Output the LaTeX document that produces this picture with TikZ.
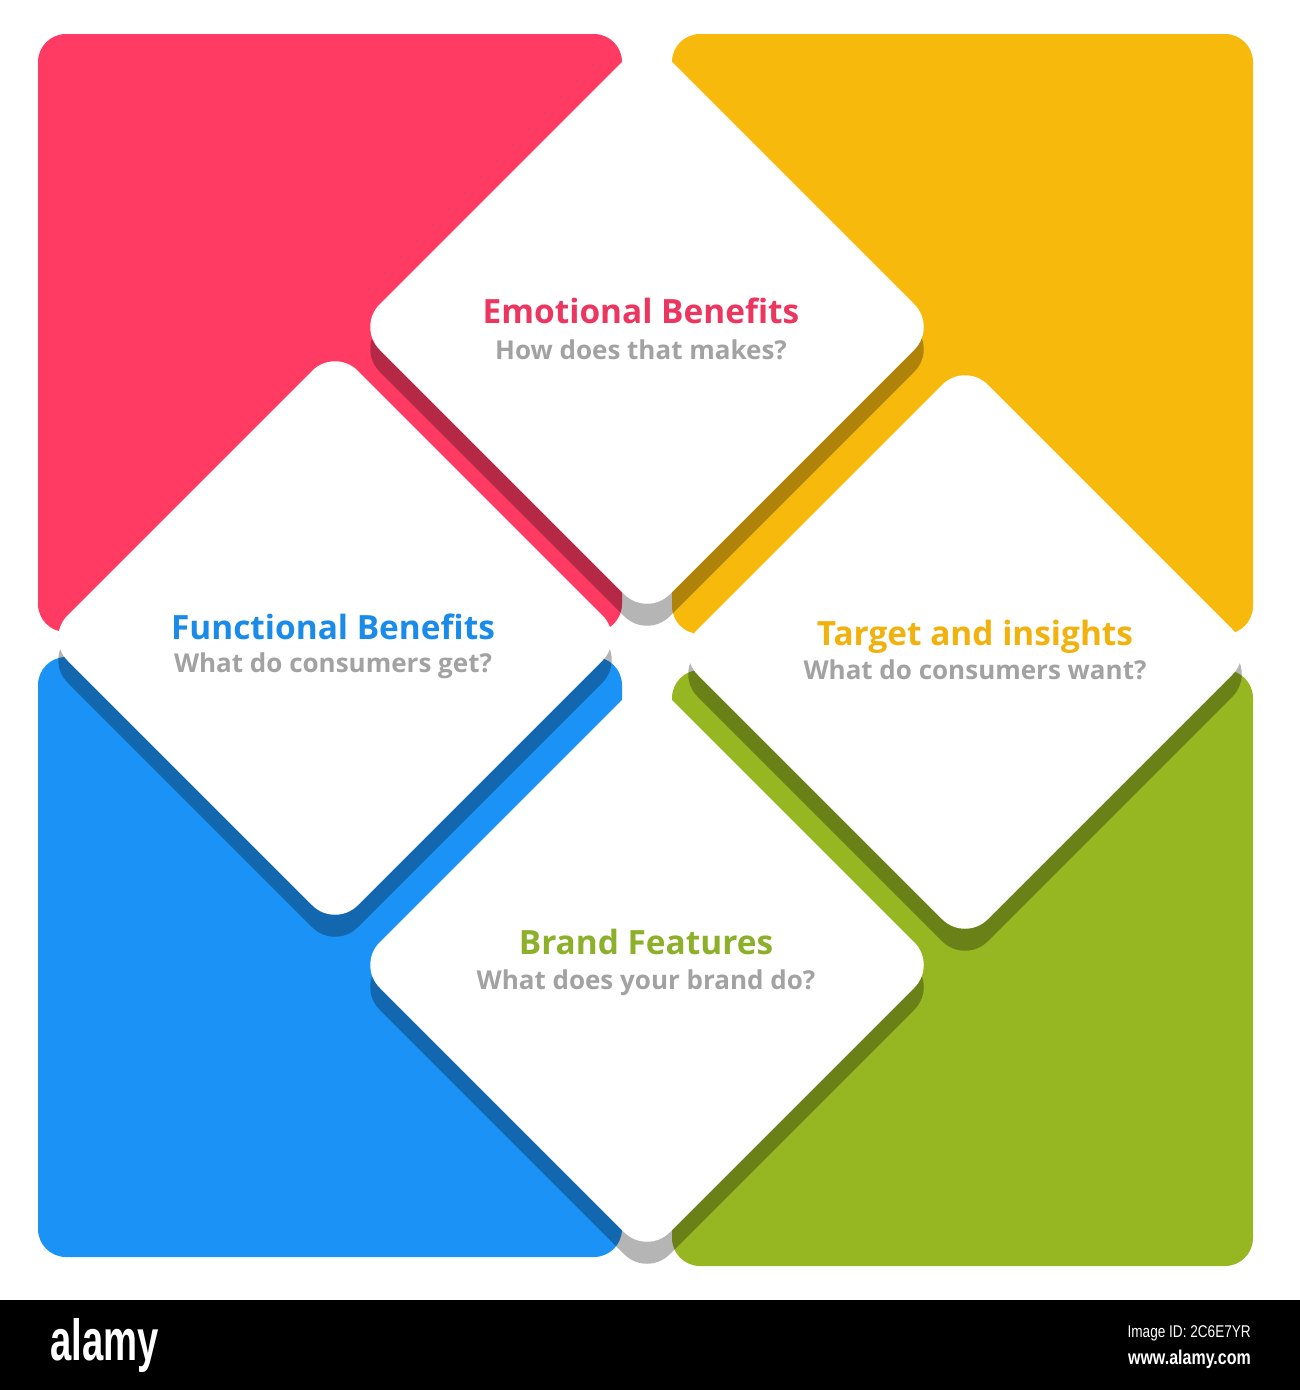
\documentclass[tikz,border=0pt]{standalone}
\usepackage{fontspec}
\setmainfont{Open Sans}
\newfontfamily\logofont{Liberation Sans}
\usetikzlibrary{shapes.geometric}
\definecolor{cred}{HTML}{FF3A63}
\definecolor{cyel}{HTML}{F7B90B}
\definecolor{cblue}{HTML}{1A92F6}
\definecolor{cgreen}{HTML}{96B622}
\definecolor{tred}{HTML}{EC3660}
\definecolor{tyel}{HTML}{F2B20E}
\definecolor{tblue}{HTML}{1A8BE8}
\definecolor{tgreen}{HTML}{8DB02A}
\definecolor{csub}{HTML}{A2A2A2}
\begin{document}
\begin{tikzpicture}[x=1pt,y=-1pt,
  quad/.style={rounded corners=28pt},
  dia/.style={diamond, aspect=1, inner sep=0pt, outer sep=0pt, minimum size=580pt, rounded corners=32pt, fill=white},
  shad/.style={dia, fill=black, fill opacity=0.29},
  ttl/.style={font=\bfseries\fontsize{33.4}{40}\selectfont, anchor=base},
  sub/.style={font=\bfseries\fontsize{26}{32}\selectfont, text=csub, anchor=base}]
\useasboundingbox (0,0) rectangle (1300,1390);
\fill[white] (0,0) rectangle (1300,1390);
% quadrants
\fill[cred, quad] (38,34) rectangle (622,632);
\fill[cyel, quad] (672,34) rectangle (1253,634);
\fill[cblue, quad] (38,657) rectangle (622,1257);
\fill[cgreen, quad] (672,670) rectangle (1253,1266);
% shadows
\node[shad] (emoS) at (647,349) {};
\node[shad] (funS) at (335,660) {};
\node[shad] (tarS) at (965,674) {};
\node[shad] (braS) at (647,987) {};
% diamonds
\node[dia] (emo) at (647,327) {};
\node[dia] (fun) at (335,638) {};
\node[dia] (tar) at (965,652) {};
\node[dia] (bra) at (647,965) {};
% texts
\node[ttl, text=tred] (emoT) at (641,323) {Emotional Benefits};
\node[sub] (emoQ) at (641,359) {How does that makes?};
\node[ttl, text=tblue] (funT) at (333,639) {Functional Benefits};
\node[sub] (funQ) at (333,672) {What do consumers get?};
\node[ttl, text=tyel] (tarT) at (975,645) {Target and insights};
\node[sub] (tarQ) at (975,679) {What do consumers want?};
\node[ttl, text=tgreen] (braT) at (646,954) {Brand Features};
\node[sub] (braQ) at (646,989) {What does your brand do?};
% bottom bar
\fill[black] (0,1300) rectangle (1300,1390);
\node[anchor=west, text=white, inner sep=0pt] (logo) at (50,1345) {\scalebox{0.66}[1]{\logofont\bfseries\fontsize{58}{58}\selectfont alamy}};
\node[anchor=east, text=white, inner sep=0pt] (imgid) at (1251,1333) {\scalebox{0.8}[1]{\logofont\fontsize{17}{17}\selectfont Image ID: 2C6E7YR}};
\node[anchor=east, text=white, inner sep=0pt] (url) at (1251,1359) {\scalebox{0.8}[1]{\logofont\bfseries\fontsize{20}{20}\selectfont www.alamy.com}};
\end{tikzpicture}
\end{document}
